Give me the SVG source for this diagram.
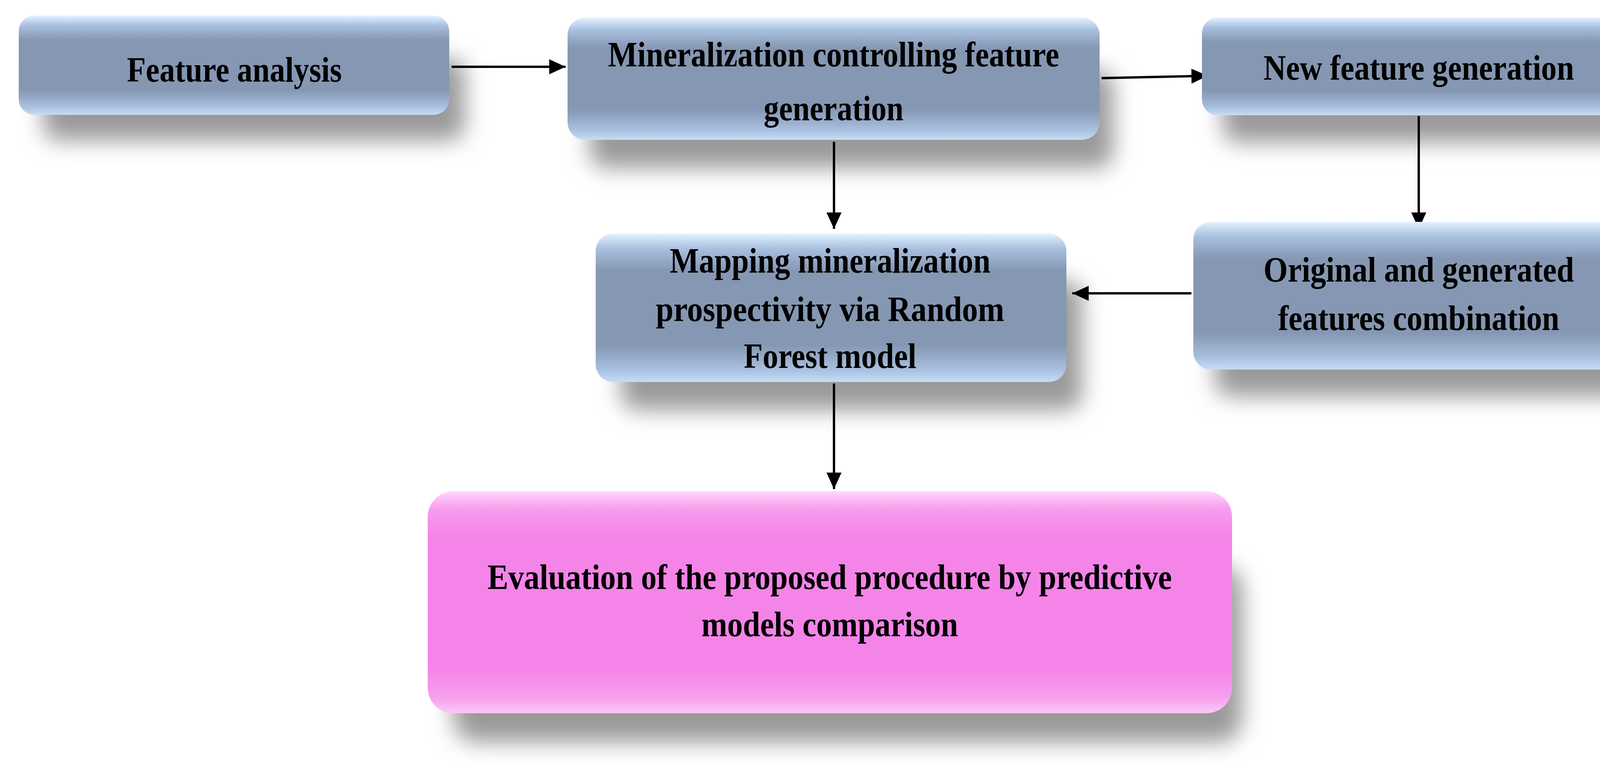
<svg xmlns="http://www.w3.org/2000/svg" width="4293" height="1951" viewBox="0 0 4293 1951">
<style>
.t{font-family:"Liberation Serif","Times New Roman",serif;font-weight:bold;font-size:92px;fill:#000;text-anchor:middle}
.sh{fill:#9a9a9a;filter:url(#blur)}
.c{stroke:#000;stroke-width:6;fill:none;marker-end:url(#ah)}
</style>
<defs>
<filter id="blur" x="-20%" y="-40%" width="140%" height="180%"><feGaussianBlur stdDeviation="28"/></filter>
<linearGradient id="gb" x1="0" y1="0" x2="0" y2="1">
<stop offset="0" stop-color="#e4f2ff"/><stop offset="0.1" stop-color="#a9c0e0"/><stop offset="0.25" stop-color="#8597b2"/><stop offset="0.75" stop-color="#8597b2"/><stop offset="0.92" stop-color="#a9c0e0"/><stop offset="1" stop-color="#c8dcf4"/>
</linearGradient>
<linearGradient id="gp" x1="0" y1="0" x2="0" y2="1">
<stop offset="0" stop-color="#ffd6fa"/><stop offset="0.08" stop-color="#f79cec"/><stop offset="0.2" stop-color="#f584e8"/><stop offset="0.8" stop-color="#f584e8"/><stop offset="0.93" stop-color="#f7a0ee"/><stop offset="1" stop-color="#fbc8f6"/>
</linearGradient>
<marker id="ah" markerWidth="8" markerHeight="8" refX="7" refY="4" orient="auto" markerUnits="strokeWidth"><path d="M0,0.8 L7,4 L0,7.2 Z" fill="#000"/></marker>
</defs>
<rect width="4293" height="1951" fill="#fff"/>
<g id="shadows">
<rect class="sh" x="110" y="150" width="1080" height="210" rx="40"/>
<rect class="sh" x="1510" y="180" width="1340" height="250" rx="40"/>
<rect class="sh" x="3130" y="150" width="1090" height="215" rx="40"/>
<rect class="sh" x="1590" y="720" width="1180" height="330" rx="40"/>
<rect class="sh" x="3110" y="690" width="1130" height="325" rx="40"/>
<rect class="sh" x="1160" y="1450" width="2020" height="450" rx="60"/>
</g>
<g id="connectors">
<line class="c" x1="1156" y1="171" x2="1448" y2="171"/>
<line class="c" x1="2820" y1="200" x2="3092" y2="194"/>
<line class="c" x1="2135" y1="363" x2="2135" y2="586"/>
<line class="c" x1="3632" y1="297" x2="3632" y2="586"/>
<line class="c" x1="3050" y1="751" x2="2745" y2="751"/>
<line class="c" x1="2135" y1="982" x2="2135" y2="1252"/>
</g>
<g id="n1"><rect x="48" y="40" width="1102" height="254" rx="40" fill="url(#gb)"/>
<text class="t" x="600" y="209" textLength="550" lengthAdjust="spacingAndGlyphs">Feature analysis</text></g>
<g id="n2"><rect x="1453" y="45" width="1362" height="313" rx="45" fill="url(#gb)"/>
<text class="t" x="2134" y="170" textLength="1155" lengthAdjust="spacingAndGlyphs">Mineralization controlling feature</text>
<text class="t" x="2134" y="308" textLength="358" lengthAdjust="spacingAndGlyphs">generation</text></g>
<g id="n3"><rect x="3077" y="45" width="1109" height="250" rx="40" fill="url(#gb)"/>
<text class="t" x="3632" y="204" textLength="795" lengthAdjust="spacingAndGlyphs">New feature generation</text></g>
<g id="n4"><rect x="1525" y="598" width="1205" height="380" rx="45" fill="url(#gb)"/>
<text class="t" x="2125" y="698" textLength="821" lengthAdjust="spacingAndGlyphs">Mapping mineralization</text>
<text class="t" x="2125" y="822" textLength="892" lengthAdjust="spacingAndGlyphs">prospectivity via  Random</text>
<text class="t" x="2125" y="942" textLength="442" lengthAdjust="spacingAndGlyphs">Forest model</text></g>
<g id="n5"><rect x="3055" y="568" width="1156" height="378" rx="45" fill="url(#gb)"/>
<text class="t" x="3632" y="721" textLength="795" lengthAdjust="spacingAndGlyphs">Original and generated</text>
<text class="t" x="3632" y="845" textLength="720" lengthAdjust="spacingAndGlyphs">features combination</text></g>
<g id="n6"><rect x="1095" y="1258" width="2059" height="568" rx="65" fill="url(#gp)"/>
<text class="t" x="2124" y="1508" textLength="1752" lengthAdjust="spacingAndGlyphs">Evaluation of the proposed procedure by predictive</text>
<text class="t" x="2124" y="1629" textLength="657" lengthAdjust="spacingAndGlyphs">models comparison</text></g>
</svg>
